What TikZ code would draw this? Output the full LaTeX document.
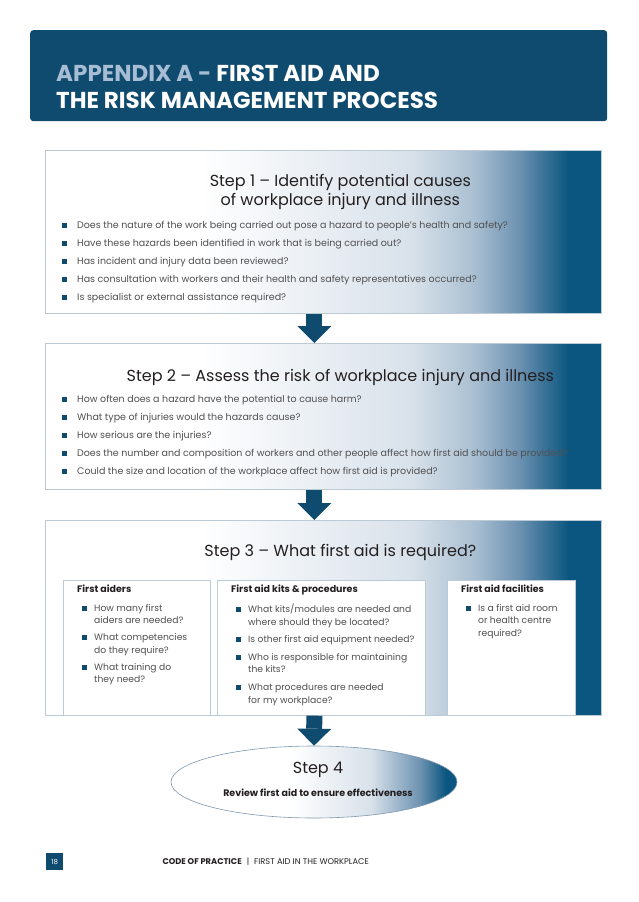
\documentclass[tikz,border=0pt]{standalone}
\usepackage{fontspec}
\setmainfont{Poppins}
\usepackage{xcolor}
\usepackage{tikz}
\usetikzlibrary{arrows.meta,positioning,shapes.geometric}
\definecolor{navy}{HTML}{0F4A6F}
\definecolor{fadedark}{HTML}{0B5680}
\definecolor{fademid}{HTML}{6E93B2}
\definecolor{fadesoft}{HTML}{A9BFD1}
\definecolor{fadelight}{HTML}{D8E1EA}
\definecolor{boxline}{HTML}{BCCAD6}
\definecolor{ovalline}{HTML}{7F98AF}
\definecolor{titletext}{HTML}{231F20}
\definecolor{bodytext}{HTML}{505052}
\definecolor{appendix}{HTML}{A7BDD3}
\pgfdeclarehorizontalshading{stepfade}{100bp}{color(0bp)=(white); color(39bp)=(white); color(58bp)=(fadelight); color(63.6bp)=(fadesoft); color(67.5bp)=(fademid); color(72bp)=(fadedark); color(100bp)=(fadedark)}
\pgfdeclarehorizontalshading{ovalfade}{100bp}{color(0bp)=(white); color(46bp)=(white); color(60bp)=(fadelight); color(68.5bp)=(fademid); color(73bp)=(fadedark); color(100bp)=(fadedark)}
\newcommand{\bsq}{\textcolor{navy}{\rule[0.7pt]{5pt}{5pt}}}
\newcommand{\bline}{\makebox[15pt][l]{\bsq}}
\newcommand{\sline}{\makebox[12pt][l]{\bsq}}
\newcommand{\sgap}{\hspace*{12pt}}
\tikzset{
  headbox/.style={
    anchor=north west, fill=navy, rounded corners=3pt,
    minimum width=577pt, minimum height=91pt, inner sep=0pt,
  },
  headtext/.style={
    font=\fontsize{23}{26.5}\selectfont\bfseries, text=white,
    align=left, inner sep=0pt,
  },
  stepbox/.style={
    anchor=north west, draw=boxline, line width=0.7pt, shade, shading=stepfade,
    minimum width=556pt, inner sep=0pt,
  },
  subbox/.style={
    anchor=north west, draw=boxline, line width=0.7pt, fill=white,
    minimum height=135pt, inner sep=0pt,
  },
  steptitle/.style={
    font=\fontsize{16}{19}\selectfont, text=titletext, align=center, inner sep=0pt,
  },
  bulletlist/.style={
    font=\fontsize{9.5}{18}\selectfont, text=bodytext, align=left, inner sep=0pt,
  },
  subhead/.style={
    font=\fontsize{9.5}{11}\selectfont\bfseries, text=titletext, inner sep=0pt,
  },
  sublist/.style={
    font=\fontsize{9.2}{12.5}\selectfont, text=bodytext, align=left, inner sep=0pt,
  },
  flowarrow/.style={
    line width=16pt, color=navy,
    -{Triangle[width=34pt,length=17pt,line width=0pt]},
  },
  oval/.style={
    ellipse, draw=ovalline, line width=0.6pt, shade, shading=ovalfade,
    minimum width=286pt, minimum height=72pt, inner sep=0pt,
  },
  ovaltext/.style={
    font=\fontsize{16}{18}\selectfont, text=titletext, align=center, inner sep=0pt,
  },
  pagebox/.style={
    anchor=north west, fill=navy, minimum size=17pt, inner sep=0pt,
    font=\fontsize{7}{8}\selectfont, text=white,
  },
  footer/.style={
    font=\fontsize{8.3}{10}\selectfont, text=titletext, inner sep=0pt,
  },
}

\begin{document}
\begin{tikzpicture}[x=1pt,y=1pt]
  \useasboundingbox (0,0) rectangle (638,-902);

  \node[headbox] (head) at (30,-30) {};
  \node[headtext, below right=35pt and 26pt of head.north west] (headtitle)
    {{\color{appendix}APPENDIX A -} FIRST AID AND\\THE RISK MANAGEMENT PROCESS};

  \node[stepbox, minimum height=163pt] (step1) at (45,-150) {};
  \node[steptitle, below=24pt of step1.north, xshift=17pt] (title1)
    {Step 1 – Identify potential causes\\of workplace injury and illness};
  \node[bulletlist, below right=71pt and 17pt of step1.north west] (list1)
    {\bline Does the nature of the work being carried out pose a hazard to people’s health and safety?\\
     \bline Have these hazards been identified in work that is being carried out?\\
     \bline Has incident and injury data been reviewed?\\
     \bline Has consultation with workers and their health and safety representatives occurred?\\
     \bline Is specialist or external assistance required?};

  \node[stepbox, minimum height=146pt] (step2) at (45,-343) {};
  \node[steptitle, below=26pt of step2.north, xshift=17pt] (title2)
    {Step 2 – Assess the risk of workplace injury and illness};
  \node[bulletlist, below right=52pt and 17pt of step2.north west] (list2)
    {\bline How often does a hazard have the potential to cause harm?\\
     \bline What type of injuries would the hazards cause?\\
     \bline How serious are the injuries?\\
     \bline Does the number and composition of workers and other people affect how first aid should be provided?\\
     \bline Could the size and location of the workplace affect how first aid is provided?};

  \node[stepbox, minimum height=195pt] (step3) at (45,-520) {};
  \node[steptitle, below=24pt of step3.north, xshift=17pt] (title3)
    {Step 3 – What first aid is required?};

  \node[subbox, minimum width=147pt] (aiders) at (63,-580) {};
  \node[subbox, minimum width=208pt] (kits) at (217,-580) {};
  \node[subbox, minimum width=128pt] (rooms) at (447,-580) {};

  \node[subhead, below right=5pt and 14pt of aiders.north west] (aidershead) {First aiders};
  \node[subhead, below right=5pt and 14pt of kits.north west] (kitshead) {First aid kits \& procedures};
  \node[subhead, below right=5pt and 14pt of rooms.north west] (roomshead) {First aid facilities};

  \node[sublist, below right=24pt and 19pt of aiders.north west] (aiderslist)
    {\sline How many first\\ \sgap aiders are needed?\\[4.5pt]
     \sline What competencies\\ \sgap do they require?\\[4.5pt]
     \sline What training do\\ \sgap they need?};
  \node[sublist, below right=24pt and 19pt of kits.north west] (kitslist)
    {\sline What kits/modules are needed and\\ \sgap where should they be located?\\[4.5pt]
     \sline Is other first aid equipment needed?\\[5.5pt]
     \sline Who is responsible for maintaining\\ \sgap the kits?\\[5.5pt]
     \sline What procedures are needed\\ \sgap for my workplace?};
  \node[sublist, below right=24pt and 19pt of rooms.north west] (roomslist)
    {\sline Is a first aid room\\ \sgap or health centre\\ \sgap required?};

  \node[oval] (step4) at (314,-782) {};
  \node[ovaltext] (step4text) at ([xshift=4pt,yshift=3pt]step4.center)
    {Step 4\\[5pt]{\fontsize{9.5}{11}\selectfont\bfseries Review first aid to ensure effectiveness}};

  \draw[flowarrow] ([xshift=-9pt]step1.south) -- ([xshift=-9pt]step2.north);
  \draw[flowarrow] ([xshift=-9pt]step2.south) -- ([xshift=-9pt]step3.north);
  \draw[flowarrow] ([xshift=-9pt]step3.south) -- (step4.north);

  \node[pagebox] (pagenum) at (46,-853) {18};
  \node[footer, right=99pt of pagenum] (footnote)
    {\textbf{CODE OF PRACTICE}\hspace{5pt}|\hspace{5pt}FIRST AID IN THE WORKPLACE};

\end{tikzpicture}
\end{document}
